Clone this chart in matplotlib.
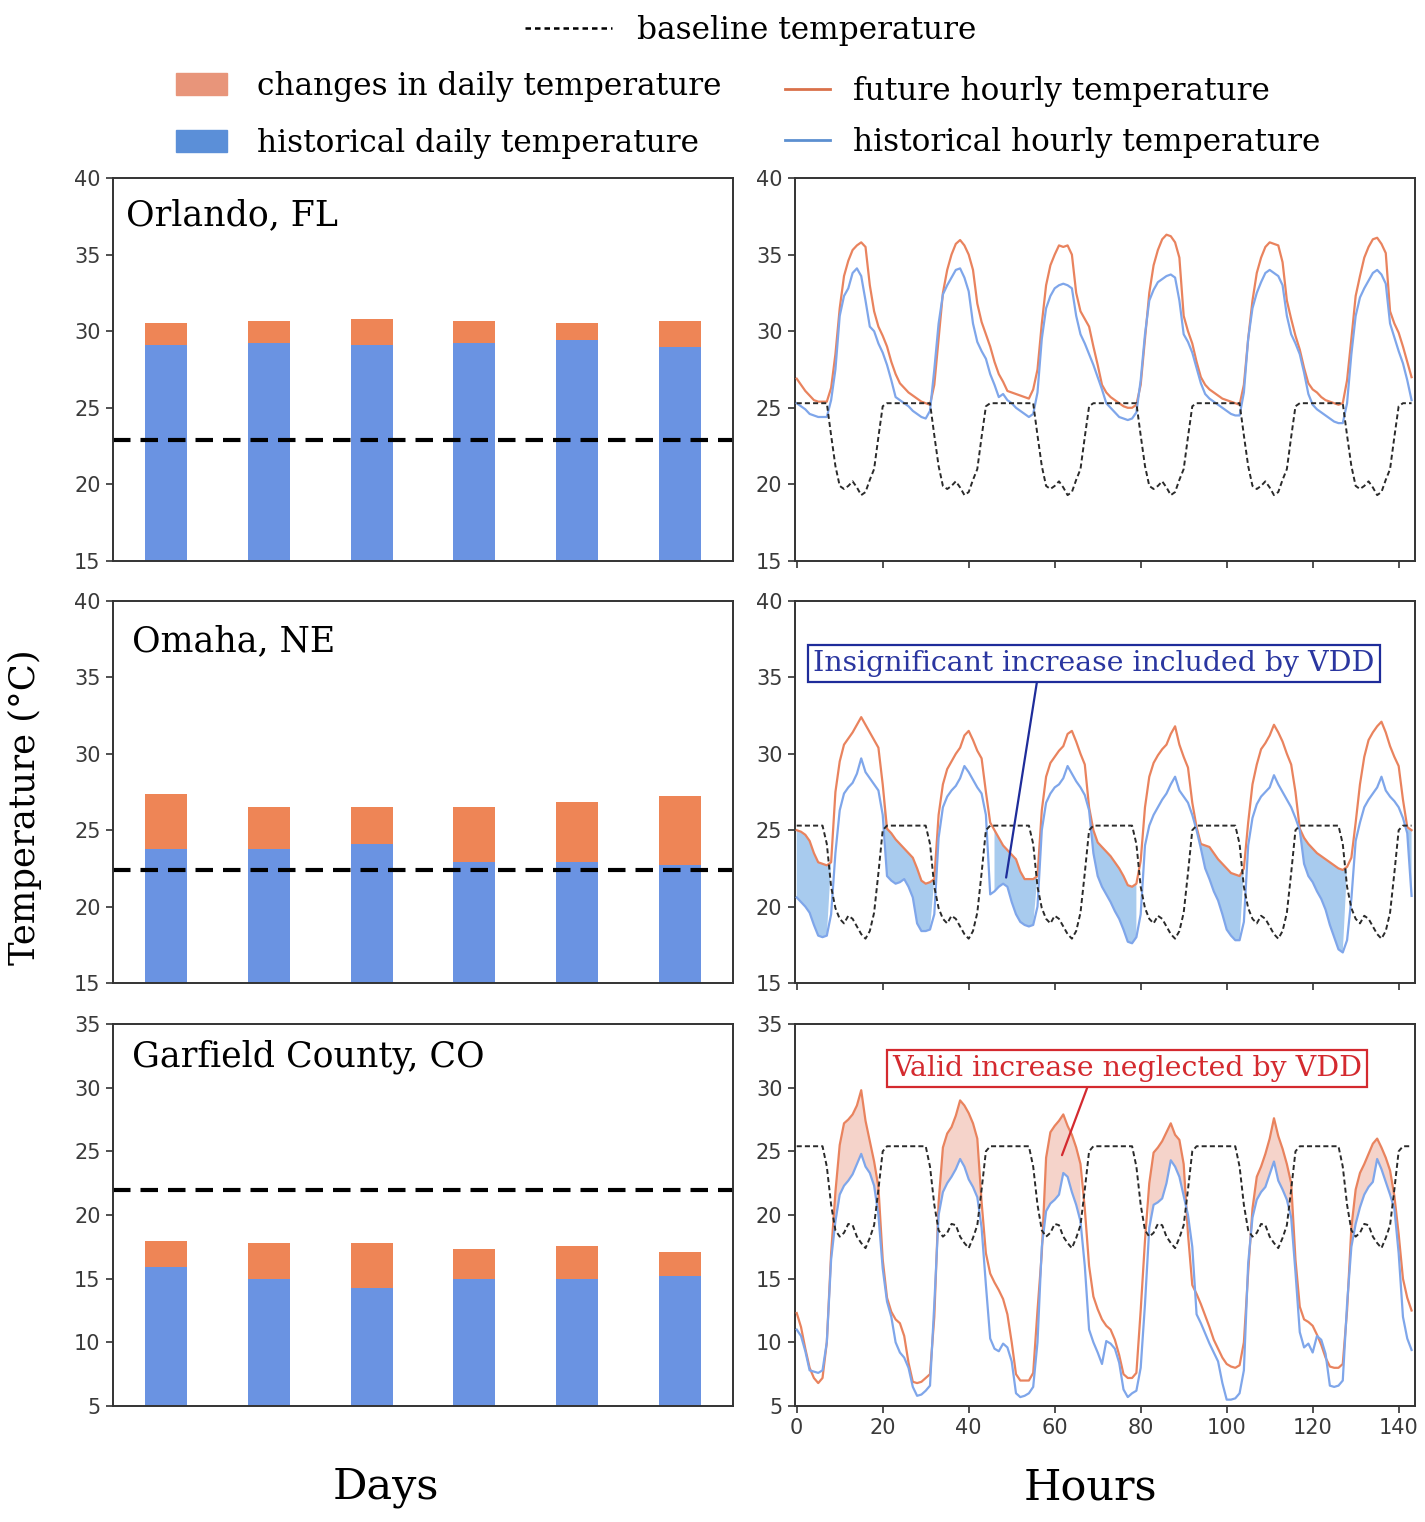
import numpy as np
import matplotlib
matplotlib.use("Agg")
import matplotlib.pyplot as plt
from matplotlib.patches import Patch
from matplotlib.lines import Line2D

# ---------------- data ----------------
DAYS = [0, 1, 2, 3, 4, 5]

ORL_HIST_DAILY = [29.1, 29.2, 29.1, 29.2, 29.4, 29.0]
ORL_FUT_DAILY = [30.55, 30.65, 30.8, 30.65, 30.55, 30.65]
ORL_BASE_DAILY = 22.9

OMA_HIST_DAILY = [23.8, 23.8, 24.1, 22.9, 22.9, 22.75]
OMA_FUT_DAILY = [27.4, 26.5, 26.5, 26.5, 26.85, 27.25]
OMA_BASE_DAILY = 22.4

GAR_HIST_DAILY = [15.9, 15.0, 14.3, 15.0, 15.0, 15.2]
GAR_FUT_DAILY = [17.95, 17.8, 17.8, 17.3, 17.6, 17.1]
GAR_BASE_DAILY = 22.0

HOURS = list(range(144))

ORL_FUT = [
    26.9, 26.5, 26.1, 25.8, 25.5, 25.4, 25.4, 25.4, 26.3, 28.5, 31.5, 33.6, 34.6, 35.3, 35.6, 35.8, 35.5, 33.0, 31.3, 30.3, 29.7, 29.0, 28.0, 27.2,
    26.6, 26.3, 26.0, 25.8, 25.6, 25.4, 25.3, 25.2, 26.5, 29.5, 32.5, 34.0, 35.0, 35.7, 35.95, 35.6, 35.0, 34.0, 31.8, 30.6, 29.8, 29.0, 28.0, 27.2,
    26.7, 26.1, 26.0, 25.9, 25.8, 25.7, 25.6, 26.2, 27.5, 30.5, 33.0, 34.3, 35.0, 35.6, 35.5, 35.6, 35.0, 32.5, 31.3, 30.8, 30.3, 29.0, 27.8, 26.5,
    26.0, 25.7, 25.5, 25.3, 25.1, 25.0, 25.0, 25.2, 26.5, 29.5, 32.5, 34.3, 35.3, 36.0, 36.3, 36.2, 35.8, 34.8, 31.0, 30.0, 29.2, 28.0, 27.0, 26.5,
    26.2, 26.0, 25.8, 25.6, 25.5, 25.4, 25.3, 25.2, 26.5, 29.5, 32.0, 33.8, 34.8, 35.5, 35.8, 35.7, 35.6, 34.5, 32.0, 30.8, 29.7, 28.8, 27.6, 26.6,
    26.2, 26.0, 25.7, 25.5, 25.4, 25.3, 25.2, 25.3, 26.8, 29.5, 32.3, 33.6, 34.8, 35.5, 36.0, 36.1, 35.7, 35.1, 31.3, 30.5, 29.9, 29.0, 28.0, 27.0,
]
ORL_HIST = [
    25.3, 25.1, 24.9, 24.6, 24.5, 24.4, 24.4, 24.4, 25.5, 27.5, 31.0, 32.3, 32.8, 33.8, 34.1, 33.6, 32.0, 30.3, 30.0, 29.2, 28.6, 27.8, 26.8, 25.7,
    25.5, 25.3, 25.1, 24.8, 24.6, 24.4, 24.3, 24.8, 27.5, 30.5, 32.4, 33.0, 33.5, 34.0, 34.1, 33.5, 32.6, 30.5, 29.3, 28.7, 28.2, 27.2, 26.5, 25.7,
    25.9, 25.5, 25.3, 25.0, 24.8, 24.6, 24.4, 24.6, 26.0, 29.5, 31.5, 32.3, 32.8, 33.0, 33.1, 33.0, 32.8, 31.0, 29.8, 29.2, 28.5, 27.8, 27.0, 26.2,
    25.3, 25.0, 24.7, 24.4, 24.3, 24.2, 24.3, 24.7, 26.8, 29.8, 32.0, 32.7, 33.2, 33.4, 33.6, 33.7, 33.5, 32.0, 29.8, 29.3, 28.6, 27.6, 26.6, 25.9,
    25.6, 25.4, 25.2, 25.0, 24.8, 24.6, 24.5, 24.5, 26.0, 29.5, 31.5, 32.5, 33.2, 33.8, 34.0, 33.8, 33.6, 33.0, 31.0, 29.8, 29.2, 28.5, 27.3, 25.9,
    25.2, 24.9, 24.7, 24.5, 24.3, 24.1, 24.0, 24.0, 25.3, 28.5, 31.0, 32.2, 32.8, 33.3, 33.8, 34.0, 33.7, 33.1, 30.5, 29.6, 28.7, 27.9, 26.8, 25.5,
]
ORL_BASE_DAY = [25.3, 25.3, 25.3, 25.3, 25.3, 25.3, 25.3, 25.3, 23.2, 21.2, 19.9, 19.7,
                19.9, 20.2, 19.8, 19.3, 19.5, 20.3, 21.0, 23.1, 25.1, 25.3, 25.3, 25.3]

OMA_FUT = [
    25.0, 24.9, 24.7, 24.3, 23.5, 22.9, 22.8, 22.7, 22.9, 27.5, 29.5, 30.6, 31.0, 31.4, 31.9, 32.4, 31.9, 31.4, 30.9, 30.4, 28.0, 25.1, 24.8, 24.4,
    24.1, 23.8, 23.5, 23.2, 22.5, 21.7, 21.5, 21.6, 21.8, 26.0, 28.0, 29.0, 29.5, 30.0, 30.4, 31.2, 31.5, 30.9, 30.2, 29.7, 27.5, 25.5, 25.0, 24.5,
    24.0, 23.7, 23.4, 23.1, 22.3, 21.8, 21.8, 21.8, 22.0, 26.3, 28.5, 29.4, 29.8, 30.2, 30.5, 31.3, 31.5, 30.8, 30.0, 29.3, 26.5, 25.0, 24.2, 23.9,
    23.6, 23.3, 22.9, 22.5, 22.0, 21.4, 21.3, 21.5, 23.0, 26.5, 28.5, 29.4, 29.9, 30.3, 30.6, 31.3, 31.8, 30.6, 29.8, 29.1, 26.8, 25.2, 24.1, 24.0,
    23.9, 23.5, 23.1, 22.8, 22.5, 22.2, 22.1, 22.0, 22.5, 25.5, 28.0, 29.3, 30.3, 30.7, 31.2, 31.9, 31.4, 30.8, 30.0, 29.3, 27.5, 25.1, 24.5, 24.1,
    23.8, 23.5, 23.3, 23.1, 22.9, 22.7, 22.5, 22.4, 22.6, 23.2, 25.5, 28.0, 29.8, 30.9, 31.4, 31.8, 32.1, 31.4, 30.5, 29.8, 29.2, 27.0, 25.2, 25.0,
]
OMA_HIST = [
    20.6, 20.3, 20.0, 19.6, 18.8, 18.1, 18.0, 18.1, 19.5, 23.5, 26.3, 27.4, 27.8, 28.1, 28.7, 29.7, 28.8, 28.4, 28.0, 27.6, 26.0, 22.0, 21.7, 21.5,
    21.6, 21.8, 21.3, 20.6, 18.9, 18.4, 18.4, 18.5, 19.5, 24.5, 26.5, 27.2, 27.6, 27.9, 28.4, 29.2, 28.8, 28.3, 27.8, 27.4, 26.0, 20.8, 21.0, 21.3,
    21.5, 21.3, 20.3, 19.5, 19.0, 18.8, 18.7, 18.8, 20.0, 25.0, 26.8, 27.4, 27.8, 28.0, 28.4, 29.2, 28.7, 28.2, 27.8, 27.3, 26.3, 23.5, 22.0, 21.3,
    20.8, 20.3, 19.7, 19.2, 18.5, 17.7, 17.6, 18.0, 19.5, 24.0, 25.3, 26.0, 26.5, 27.0, 27.4, 28.0, 28.5, 27.6, 27.2, 26.8, 26.0, 25.0, 23.8, 22.5,
    21.8, 21.0, 20.4, 19.5, 18.5, 18.1, 17.8, 17.8, 19.0, 24.0, 25.8, 26.7, 27.2, 27.5, 27.8, 28.6, 28.0, 27.5, 27.0, 26.5, 25.8, 25.0, 22.8, 22.0,
    21.6, 21.0, 20.5, 19.8, 18.8, 18.0, 17.2, 17.0, 17.8, 20.5, 24.3, 25.5, 26.5, 27.0, 27.4, 27.8, 28.5, 27.6, 27.2, 26.9, 26.5, 25.8, 24.8, 20.7,
]
OMA_BASE_DAY = [25.3, 25.3, 25.3, 25.3, 25.3, 25.3, 25.3, 24.1, 21.3, 19.9, 19.2, 18.9,
                19.4, 19.2, 18.7, 18.2, 17.9, 18.4, 19.6, 22.2, 25.0, 25.3, 25.3, 25.3]

GAR_FUT = [
    12.3, 11.2, 9.5, 8.0, 7.2, 6.8, 7.2, 10.0, 17.0, 21.8, 25.5, 27.2, 27.5, 27.9, 28.6, 29.8, 27.4, 25.8, 24.2, 22.2, 16.5, 13.5, 12.4, 11.8,
    11.5, 10.5, 8.4, 6.9, 6.8, 6.9, 7.2, 7.5, 12.0, 21.0, 25.3, 26.4, 26.9, 27.8, 29.0, 28.6, 28.0, 27.2, 26.0, 21.0, 17.0, 15.4, 14.7, 14.1,
    13.4, 12.2, 10.0, 7.5, 7.0, 7.0, 7.0, 7.6, 12.5, 17.0, 24.5, 26.5, 27.0, 27.4, 27.9, 27.0, 26.3, 25.3, 24.0, 20.5, 16.0, 13.6, 12.6, 11.8,
    11.3, 11.0, 10.2, 9.0, 7.5, 7.2, 7.2, 7.6, 12.5, 18.0, 22.5, 24.9, 25.3, 25.8, 26.5, 27.2, 26.3, 25.9, 24.0, 18.5, 14.5, 13.8, 13.0, 12.1,
    11.2, 10.2, 9.5, 8.8, 8.3, 8.1, 8.0, 8.2, 10.0, 15.5, 20.5, 23.0, 23.8, 24.8, 26.0, 27.6, 26.2, 25.2, 24.0, 22.5, 16.5, 12.8, 11.8, 11.6,
    11.3, 10.6, 9.8, 8.8, 8.1, 8.0, 8.0, 8.3, 12.5, 19.0, 22.0, 23.3, 24.0, 24.8, 25.6, 26.0, 25.3, 24.5, 23.5, 21.5, 18.5, 15.0, 13.5, 12.5,
]
GAR_HIST = [
    11.0, 10.5, 9.3, 7.8, 7.7, 7.6, 7.8, 10.0, 16.5, 19.5, 21.6, 22.3, 22.7, 23.2, 24.0, 24.8, 23.8, 23.3, 22.3, 20.0, 15.8, 13.2, 12.0, 10.0,
    9.2, 8.8, 8.0, 6.5, 5.8, 5.9, 6.2, 6.6, 13.0, 20.0, 21.8, 22.5, 23.0, 23.6, 24.4, 23.8, 22.8, 22.2, 21.4, 19.0, 14.5, 10.3, 9.5, 9.3,
    9.9, 9.6, 8.5, 6.0, 5.7, 5.8, 6.0, 6.5, 10.0, 17.5, 20.3, 20.9, 21.2, 21.6, 23.3, 23.0, 21.8, 20.8, 19.5, 16.0, 11.0, 10.0, 9.2, 8.3,
    10.1, 9.9, 9.5, 8.4, 6.3, 5.7, 6.0, 6.2, 8.0, 13.0, 19.0, 20.8, 21.0, 21.3, 22.5, 24.3, 23.8, 23.0, 21.5, 20.0, 17.5, 12.2, 11.5, 10.7,
    9.9, 9.2, 8.5, 6.8, 5.5, 5.5, 5.6, 6.0, 7.8, 16.2, 19.8, 21.2, 21.8, 22.2, 23.2, 24.2, 22.7, 22.0, 21.2, 19.8, 15.5, 10.8, 9.6, 9.9,
    9.2, 10.5, 10.2, 9.1, 6.6, 6.5, 6.6, 7.0, 13.0, 17.5, 19.3, 20.6, 21.6, 22.2, 22.6, 24.4, 23.6, 22.6, 21.6, 20.5, 17.0, 12.0, 10.3, 9.4,
]
GAR_BASE_DAY = [25.4, 25.4, 25.4, 25.4, 25.4, 25.4, 25.4, 23.8, 20.8, 18.8, 18.3, 18.6,
                19.3, 19.2, 18.3, 17.8, 17.4, 18.2, 19.2, 22.0, 25.0, 25.4, 25.4, 25.4]

CITY_NAMES = ["Orlando, FL", "Omaha, NE", "Garfield County, CO"]
YLIMS = [(15, 40), (15, 40), (5, 35)]

# ---------------- style ----------------
SERIF = "DejaVu Serif"
BAR_BLUE = "#6A93E2"
BAR_ORANGE = "#EE8556"
LINE_ORANGE = "#E9835E"
LINE_BLUE = "#7FA6EA"
FILL_BLUE = "#A8CBEE"
FILL_PINK = "#F5D3CA"
SPINE = "#333333"

W, H = 1425, 1522
fig = plt.figure(figsize=(W / 100, H / 100), dpi=100)


def fx(px):
    return px / W


def fy(py):
    return 1 - py / H


rows = [(178, 561), (601, 983), (1024, 1406)]
left_x = (113, 733)
right_x = (795, 1415)

daily = [
    (ORL_HIST_DAILY, ORL_FUT_DAILY, ORL_BASE_DAILY),
    (OMA_HIST_DAILY, OMA_FUT_DAILY, OMA_BASE_DAILY),
    (GAR_HIST_DAILY, GAR_FUT_DAILY, GAR_BASE_DAILY),
]
hourly = [
    (ORL_HIST, ORL_FUT, ORL_BASE_DAY),
    (OMA_HIST, OMA_FUT, OMA_BASE_DAY),
    (GAR_HIST, GAR_FUT, GAR_BASE_DAY),
]
title_pos = [(0.021, 0.903), (0.031, 0.895), (0.031, 0.914)]


def style_axes(ax):
    for s in ax.spines.values():
        s.set_color(SPINE)
        s.set_linewidth(1.4)
    ax.tick_params(axis="y", labelsize=15, length=5, width=1.2, color=SPINE,
                   labelcolor="#3a3a3a", pad=4)


for i, (top, bot) in enumerate(rows):
    # ---- left: daily bars ----
    axl = fig.add_axes([fx(left_x[0]), fy(bot), fx(left_x[1] - left_x[0]), (bot - top) / H])
    hist, fut, base = daily[i]
    hist = np.array(hist)
    fut = np.array(fut)
    axl.bar(DAYS, hist, width=0.41, color=BAR_BLUE, bottom=0)
    axl.bar(DAYS, fut - hist, width=0.41, bottom=hist, color=BAR_ORANGE)
    axl.axhline(base, color="black", lw=3, dashes=(4.2, 2.4))
    axl.set_ylim(*YLIMS[i])
    axl.set_xlim(-0.515, 5.515)
    axl.set_xticks([])
    axl.set_yticks(np.arange(YLIMS[i][0], YLIMS[i][1] + 1, 5))
    style_axes(axl)
    axl.text(title_pos[i][0], title_pos[i][1], CITY_NAMES[i], transform=axl.transAxes,
             fontsize=25, family=SERIF, va="center", ha="left")

    # ---- right: hourly lines ----
    axr = fig.add_axes([fx(right_x[0]), fy(bot), fx(right_x[1] - right_x[0]), (bot - top) / H])
    h_hist, h_fut, base_day = hourly[i]
    hrs = np.array(HOURS)
    h_hist = np.array(h_hist)
    h_fut = np.array(h_fut)
    base = np.array(base_day * 6)
    if i == 1:
        axr.fill_between(hrs, h_fut, h_hist, where=h_fut <= base, interpolate=True,
                         color=FILL_BLUE, lw=0, zorder=1)
    if i == 2:
        axr.fill_between(hrs, h_fut, h_hist, where=h_fut >= base, interpolate=True,
                         color=FILL_PINK, lw=0, zorder=1)
    axr.plot(hrs, h_fut, color=LINE_ORANGE, lw=1.6, zorder=3)
    axr.plot(hrs, h_hist, color=LINE_BLUE, lw=1.6, zorder=3)
    axr.plot(hrs, base, color="#2a2a2a", lw=1.4, dashes=(2.6, 1.6), zorder=4)
    axr.set_ylim(*YLIMS[i])
    axr.set_xlim(-0.4, 143.8)
    axr.set_xticks(np.arange(0, 141, 20))
    axr.set_yticks(np.arange(YLIMS[i][0], YLIMS[i][1] + 1, 5))
    style_axes(axr)
    axr.tick_params(axis="x", labelsize=15, length=5, width=1.2, color=SPINE,
                    labelcolor="#3a3a3a", pad=4)
    if i < 2:
        axr.tick_params(axis="x", labelbottom=False)

    if i == 1:
        axr.annotate("Insignificant increase included by VDD", xy=(48.7, 21.9), xytext=(69.1, 35.9),
                     fontsize=20.4, family=SERIF, color="#2A36A0", ha="center", va="center",
                     bbox=dict(boxstyle="square,pad=0.18", fc="white", ec="#1E2C9A", lw=1.6),
                     arrowprops=dict(arrowstyle="-", color="#1E2C9A", lw=1.6, relpos=(0.40, 0.0),
                                     shrinkA=0, shrinkB=0), zorder=6)
    if i == 2:
        axr.annotate("Valid increase neglected by VDD", xy=(61.7, 24.7), xytext=(76.8, 31.5),
                     fontsize=20.4, family=SERIF, color="#D42A2F", ha="center", va="center",
                     bbox=dict(boxstyle="square,pad=0.18", fc="white", ec="#D42A2F", lw=1.6),
                     arrowprops=dict(arrowstyle="-", color="#D42A2F", lw=1.6, relpos=(0.42, 0.0),
                                     shrinkA=0, shrinkB=0), zorder=6)

# ---------------- labels ----------------
fig.text(fx(25), fy(807), "Temperature (°C)", rotation=90, fontsize=25.5, family=SERIF,
         ha="center", va="center")
fig.text(fx(386), fy(1487), "Days", fontsize=31, family=SERIF, ha="center", va="center")
fig.text(fx(1090), fy(1487), "Hours", fontsize=31, family=SERIF, ha="center", va="center")

# ---------------- legends ----------------
leg_font = {"family": SERIF, "size": 22.5}
h_base = [Line2D([0], [0], color="black", lw=1.8, dashes=(2.2, 1.6))]
leg1 = fig.legend(h_base, ["baseline temperature"], loc="center left",
                  bbox_to_anchor=(fx(525), fy(30)), frameon=False, prop=leg_font,
                  handlelength=2.78, handletextpad=0.8, borderpad=0, borderaxespad=0)
h_bars = [Patch(color="#E8957A"), Patch(color="#5B8FD8")]
leg2 = fig.legend(h_bars, ["changes in daily temperature", "historical daily temperature"],
                  loc="center left", bbox_to_anchor=(fx(176), fy(115)), frameon=False,
                  prop=leg_font, handlelength=1.63, handleheight=0.7, handletextpad=0.96,
                  labelspacing=0.83, borderpad=0, borderaxespad=0)
h_lines = [Line2D([0], [0], color="#D9714A", lw=2), Line2D([0], [0], color="#5C8FD0", lw=2)]
leg3 = fig.legend(h_lines, ["future hourly temperature", "historical hourly temperature"],
                  loc="center left", bbox_to_anchor=(fx(785), fy(117)), frameon=False,
                  prop=leg_font, handlelength=1.44, handletextpad=0.74,
                  labelspacing=0.66, borderpad=0, borderaxespad=0)

fig.savefig("out.png", dpi=100)
